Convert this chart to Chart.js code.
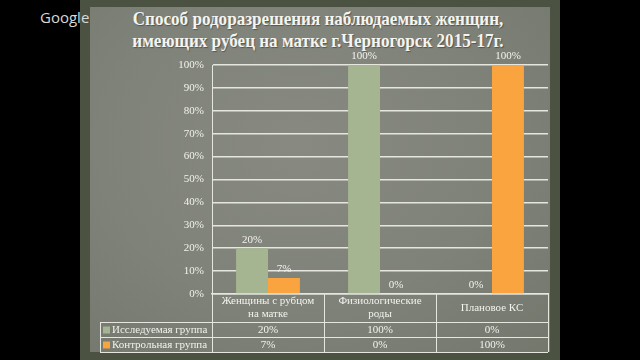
<!DOCTYPE html>
<html>
<head>
<meta charset="utf-8">
<script src="https://cdn.jsdelivr.net/npm/chart.js@4"></script>
<style>
  html, body { margin: 0; padding: 0; background: #000; width: 640px; height: 360px; overflow: hidden; }
  #slide { position: absolute; left: 80px; top: 0; width: 480px; height: 360px; background: #4c5242; }
  #paper { position: absolute; left: 90px; top: 7px; width: 460px; height: 345px;
    background: radial-gradient(ellipse at 45% 40%, #888a82 0%, #7f8279 55%, #74776c 100%); }
  #google { position: absolute; left: 40px; top: 7px; color: #d8d8d8; font: 15px "Open Sans", sans-serif; }
  #title { position: absolute; left: 98px; width: 440px; top: 8px; text-align: center; color: #f4f4f0;
    font: bold 19px/22px "Liberation Serif", serif; text-shadow: 1px 1px 1px rgba(0,0,0,0.35);
    transform: scaleX(0.9); transform-origin: 50% 0; }
  canvas { position: absolute; left: 0; top: 0; }
</style>
</head>
<body>
<div id="slide"></div>
<div id="paper"></div>
<div id="google">Google</div>
<div id="title">Способ родоразрешения наблюдаемых женщин,<br>имеющих рубец на матке г.Черногорск 2015-17г.</div>
<canvas id="chart" width="640" height="360"></canvas>
<script>
const categories = [["Женщины с рубцом", "на матке"], ["Физиологические", "роды"], ["Плановое КС"]];
const seriesNames = ["Исследуемая группа", "Контрольная группа"];
const studyGroup = [20, 100, 0];
const controlGroup = [7, 0, 100];
const yTicks = [0, 10, 20, 30, 40, 50, 60, 70, 80, 90, 100];

const green = "#a5b591";
const orange = "#f9a43e";
const white = "#f2f2ee";
const serif = '"Liberation Serif", "DejaVu Serif", serif';

const valueLabels = {
  id: "valueLabels",
  afterDatasetsDraw(chart) {
    const ctx = chart.ctx;
    ctx.save();
    ctx.font = "11px " + serif;
    ctx.fillStyle = white;
    ctx.textAlign = "center";
    ctx.textBaseline = "bottom";
    chart.data.datasets.forEach((ds, di) => {
      chart.getDatasetMeta(di).data.forEach((bar, i) => {
        ctx.fillText(ds.data[i] + "%", bar.x, bar.y - 3);
      });
    });
    ctx.restore();
  }
};

const dataTable = {
  id: "dataTable",
  afterDraw(chart) {
    const ctx = chart.ctx;
    const area = chart.chartArea;
    const x = chart.scales.x;
    const step = (area.right - area.left) / categories.length;
    const top = area.bottom;
    const rowTop = top + 28;
    const rowH = 15;
    const legendLeft = 100;
    ctx.save();
    ctx.strokeStyle = "#e6e6e0";
    ctx.lineWidth = 1;
    // verticals
    for (let i = 0; i <= categories.length; i++) {
      const px = Math.round(area.left + i * step) + 0.5;
      ctx.beginPath();
      ctx.moveTo(px, top);
      ctx.lineTo(px, rowTop + rowH * 2);
      ctx.stroke();
    }
    ctx.beginPath();
    ctx.moveTo(legendLeft + 0.5, rowTop);
    ctx.lineTo(legendLeft + 0.5, rowTop + rowH * 2);
    ctx.stroke();
    // horizontals
    for (let r = 0; r <= 2; r++) {
      const py = Math.round(rowTop + r * rowH) + 0.5;
      ctx.beginPath();
      ctx.moveTo(legendLeft, py);
      ctx.lineTo(area.right, py);
      ctx.stroke();
    }
    ctx.fillStyle = white;
    ctx.textAlign = "center";
    ctx.textBaseline = "middle";
    ctx.font = "11px " + serif;
    categories.forEach((lab, i) => {
      const cx = x.getPixelForValue(i);
      const y0 = top + 14 - (lab.length - 1) * 6.5;
      lab.forEach((t, k) => ctx.fillText(t, cx, y0 + k * 13));
    });
    const rows = [studyGroup, controlGroup];
    const colors = [green, orange];
    rows.forEach((vals, r) => {
      const cy = rowTop + r * rowH + rowH / 2 + 0.5;
      ctx.fillStyle = colors[r];
      ctx.fillRect(legendLeft + 3, cy - 3.5, 7, 7);
      ctx.fillStyle = white;
      ctx.textAlign = "left";
      ctx.fillText(seriesNames[r], legendLeft + 12, cy);
      ctx.textAlign = "center";
      vals.forEach((v, i) => ctx.fillText(v + "%", x.getPixelForValue(i), cy));
    });
    ctx.restore();
  }
};

new Chart(document.getElementById("chart"), {
  type: "bar",
  data: {
    labels: categories.map(c => c.join(" ")),
    datasets: [
      { label: seriesNames[0], data: studyGroup, backgroundColor: green },
      { label: seriesNames[1], data: controlGroup, backgroundColor: orange }
    ]
  },
  options: {
    responsive: false,
    animation: false,
    layout: { padding: { left: 150, right: 92, top: 65, bottom: 66 } },
    categoryPercentage: 0.57,
    barPercentage: 1,
    plugins: { legend: { display: false }, tooltip: { enabled: false } },
    scales: {
      x: {
        display: true,
        ticks: { display: false },
        grid: { display: false },
        border: { color: "#e6e6e0", width: 1.5 },
        afterFit: s => { s.height = 0; }
      },
      y: {
        min: 0,
        max: 100,
        afterBuildTicks: s => { s.ticks = yTicks.map(v => ({ value: v })); },
        ticks: {
          color: white,
          font: { family: serif, size: 11 },
          padding: 8,
          callback: v => v + "%"
        },
        grid: { color: "#e6e6e0", lineWidth: 1.5, drawTicks: false },
        border: { color: "#e6e6e0", width: 1 },
        afterFit: s => { s.width = 62; }
      }
    }
  },
  plugins: [valueLabels, dataTable]
});
</script>
</body>
</html>
